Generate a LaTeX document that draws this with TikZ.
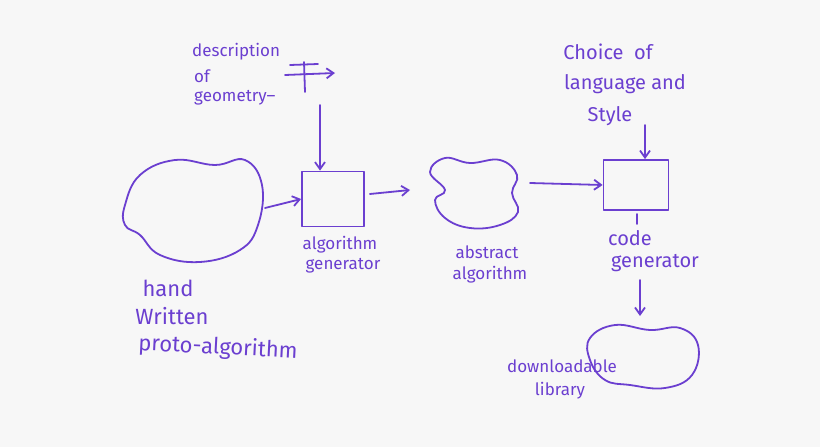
\documentclass[tikz,border=0pt]{standalone}
\usepackage{fontspec}
\setmainfont{Fira Sans}
\usetikzlibrary{arrows.meta}
\definecolor{pen}{HTML}{6B3FD0}
\definecolor{bg}{HTML}{F7F7F7}
\begin{document}
\begin{tikzpicture}[x=1pt,y=-1pt,
  ink/.style={draw=pen,line width=1.8pt,line cap=round,line join=round},
  arr/.style={ink,-{Straight Barb[length=7pt,width=10pt]}},
  lbl/.style={text=pen,font=\fontsize{17}{18}\selectfont,inner sep=0pt},
  sbox/.style={ink,minimum width=62pt,minimum height=55pt,inner sep=0pt}]
\fill[bg] (0,0) rectangle (820,447);
\useasboundingbox (0,0) rectangle (820,447);
% blobs
\draw[ink] plot[smooth cycle,tension=0.7] coordinates{(125,205)(140,175)(175,160)(215,165)(245,160)(262,185)(258,225)(240,250)(200,262)(160,255)(140,235)(125,225)};
\draw[ink] plot[smooth cycle,tension=0.7] coordinates{(430,172)(445,158)(470,163)(500,160)(517,175)(512,193)(518,212)(500,225)(470,228)(445,218)(435,200)(445,190)};
\draw[ink] plot[smooth cycle,tension=0.7] coordinates{(590,338)(615,325)(650,330)(680,328)(698,345)(692,375)(665,388)(630,385)(605,380)(590,360)};
% boxes
\node[sbox] (b1) at (333,199) {};
\node[sbox,minimum width=65pt,minimum height=50pt] (b2) at (636,185) {};
\coordinate (blob1) at (265,208);
\coordinate (blob2i) at (410,190);
\coordinate (blob2o) at (530,183);
\coordinate (blob3) at (640,316);
% arrows
\draw[arr] (blob1) -- (b1.west);
\draw[arr] (b1.east) ++(5,-5) coordinate (b1e) -- (blob2i);
\draw[arr] (blob2o) -- (b2.west);
\coordinate (d1) at (320,105);
\draw[arr] (d1) -- (b1.north -| d1);
\coordinate (c1) at (645,125);
\draw[arr] (c1) -- (b2.north -| c1);
\coordinate (g1) at (640,280);
\draw[arr] (g1) -- (blob3);
\draw[ink] (637,214) -- (637,224);
% scribble near description
\draw[arr] (285,75) -- (335,73);
\draw[ink] (290,65) -- (318,64);
\draw[ink] (304,62) -- (305,92);
% labels
\node[lbl,anchor=west] (t1) at (192,52) {description};
\node[lbl,anchor=west] (t2) at (194,76) {of};
\node[lbl,anchor=west] (t3) at (194,98) {geometry–};
\node[lbl] (t4) at (340,245) {algorithm};
\node[lbl] (t5) at (343,266) {generator};
\node[lbl] (t6) at (487,252) {abstract};
\node[lbl] (t7) at (490,275) {algorithm};
\node[lbl,font=\fontsize{20}{22}\selectfont] (t8) at (608,52) {Choice\ \ of};
\node[lbl,font=\fontsize{20}{22}\selectfont] (t9) at (625,84) {language and};
\node[lbl,font=\fontsize{20}{22}\selectfont] (t10) at (610,116) {Style};
\node[lbl,font=\fontsize{20}{22}\selectfont] (t11) at (630,238) {code};
\node[lbl,font=\fontsize{20}{22}\selectfont] (t12) at (655,263) {generator};
\node[lbl] (t13) at (562,366) {downloadable};
\node[lbl] (t14) at (560,391) {library};
\node[lbl,font=\fontsize{22}{24}\selectfont] (t15) at (168,288) {hand};
\node[lbl,font=\fontsize{22}{24}\selectfont] (t16) at (172,316) {Written};
\node[lbl,font=\fontsize{22}{24}\selectfont,rotate=-3] (t17) at (218,348) {proto-algorithm};
\end{tikzpicture}
\end{document}
